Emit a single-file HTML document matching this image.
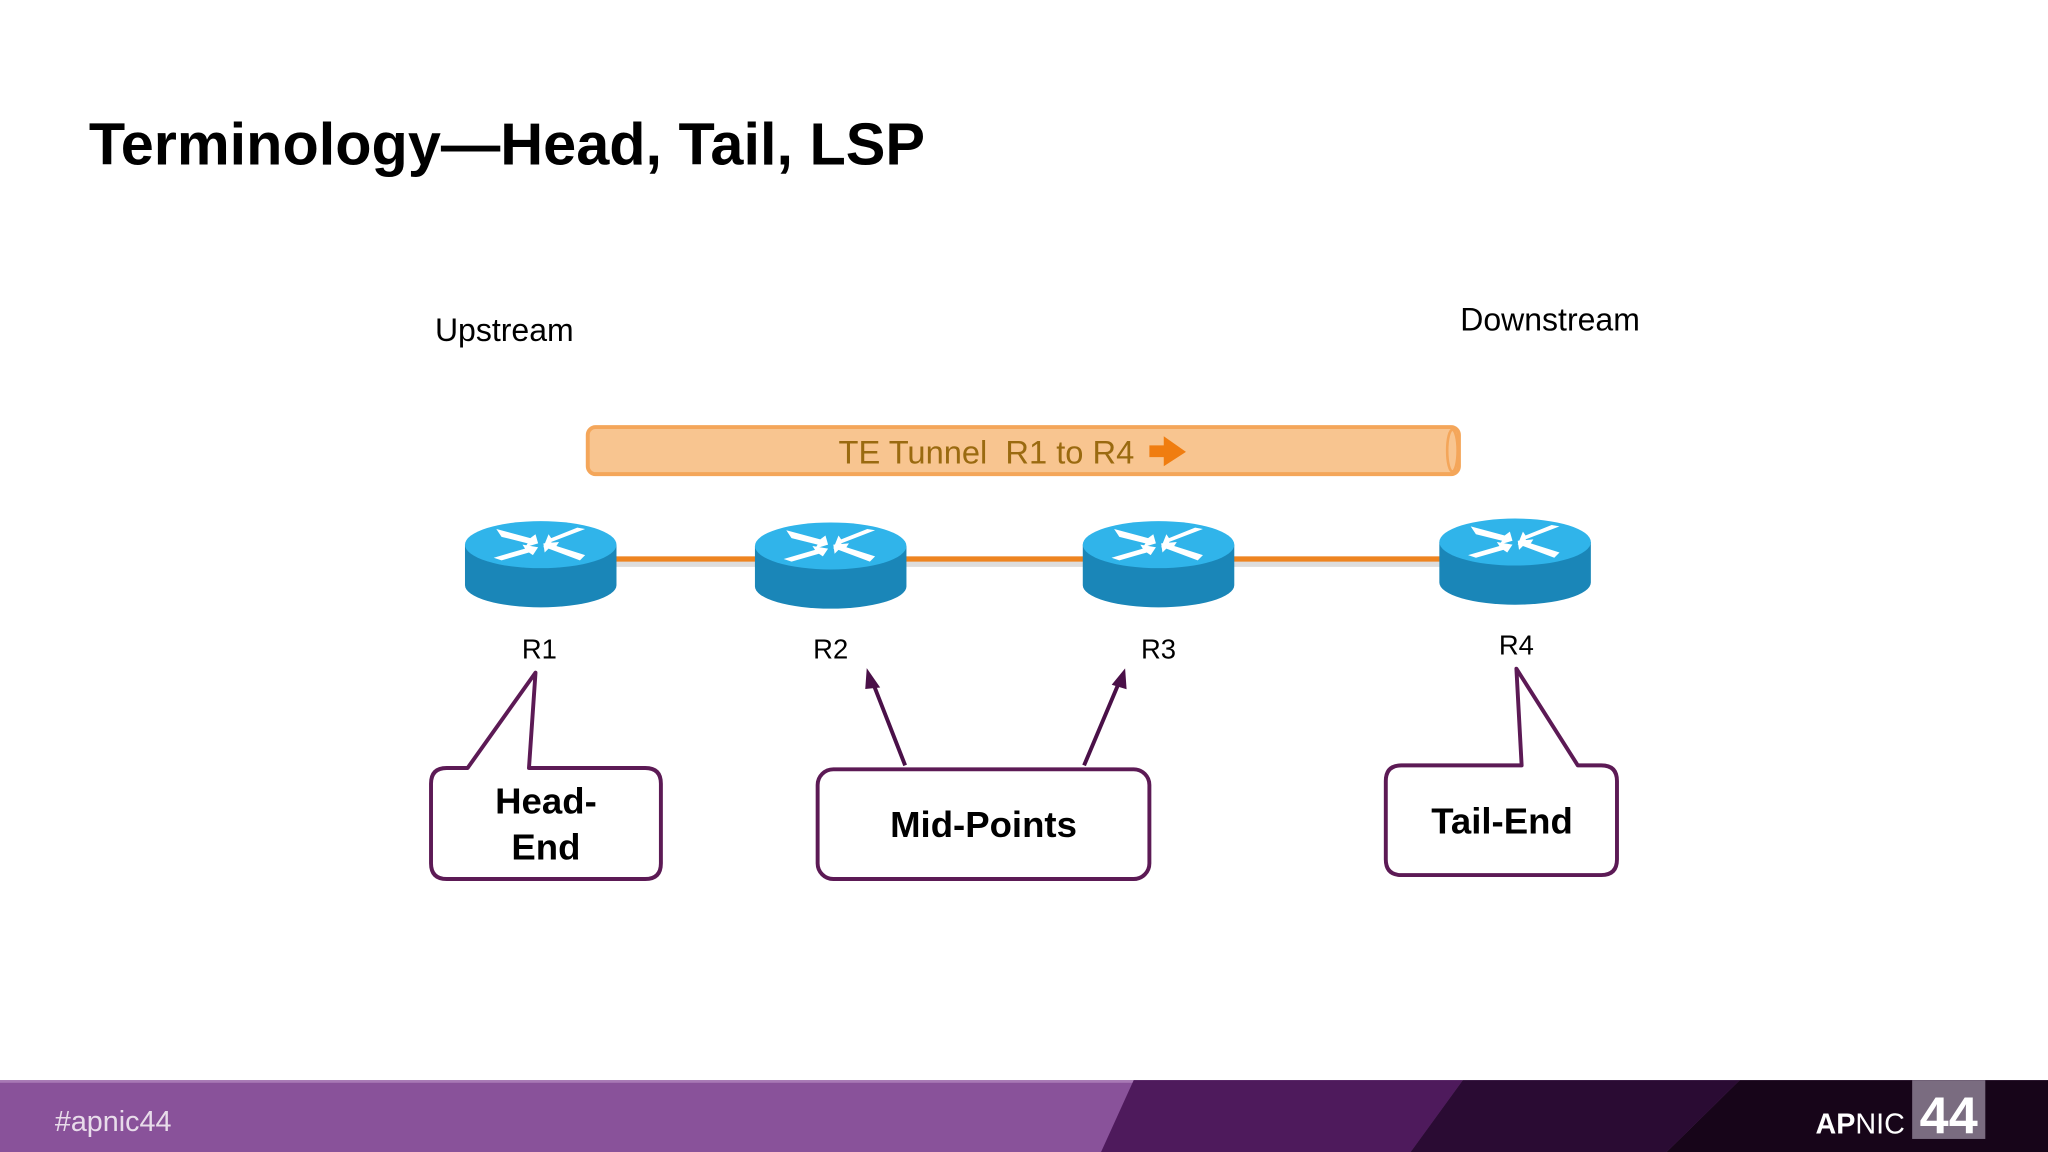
<!DOCTYPE html>
<html><head><meta charset="utf-8"><style>
html,body{margin:0;padding:0;background:#fff;}
svg{display:block;}
text{font-family:"Liberation Sans",Arial,sans-serif;}
</style></head><body>
<svg width="2048" height="1152" viewBox="0 0 1568 882" xmlns="http://www.w3.org/2000/svg">
<defs>
<g id="rt">
<path d="M-58,0 L-58,31 A58,17 0 0 0 58,31 L58,0 Z" fill="#1a86b8"/>
<ellipse cx="0" cy="0" rx="58" ry="18" fill="#30b4ea"/>
<g fill="#fff">
<polygon points="-34,-12 -8,-5 -4,-8 -2,-1 -12,2 -10,-1 -30,-6"/>
<polygon points="34,-12 8,-2 10,1 2,2 6,-8 8,-5 28,-13"/>
<polygon points="-36,10 -12,3 -14,0 -2,2 -6,8 -9,6 -30,12"/>
<polygon points="30,12 6,3 3,6 2,-1 14,-2 12,1 34,8"/>
</g>
</g>
</defs>
<text x="68" y="126" font-size="45.5" font-weight="bold" fill="#000">Terminology—Head, Tail, LSP</text>
<text x="333" y="261" font-size="24.5" fill="#000">Upstream</text>
<text x="1118" y="253" font-size="24.5" fill="#000">Downstream</text>
<rect x="450" y="327" width="667" height="36" rx="6" fill="#f8c590" stroke="#f4a65a" stroke-width="3"/>
<ellipse cx="1112" cy="345" rx="4" ry="16" fill="none" stroke="#f4a65a" stroke-width="2"/>
<text x="642" y="355" font-size="25" fill="#9a6a10" xml:space="preserve">TE Tunnel  R1 to R4</text>
<polygon points="880,341 891,341 891,334 908,346 891,357 891,350 880,350" fill="#f07d10"/>
<line x1="470" y1="430" x2="1105" y2="430" stroke="#ddd" stroke-width="8"/>
<line x1="470" y1="428" x2="1105" y2="428" stroke="#ee8420" stroke-width="4"/>
<use href="#rt" x="414" y="417"/>
<use href="#rt" x="636" y="418"/>
<use href="#rt" x="887" y="417"/>
<use href="#rt" x="1160" y="415"/>
<text x="413" y="504" font-size="21" text-anchor="middle">R1</text>
<text x="636" y="504" font-size="21" text-anchor="middle">R2</text>
<text x="887" y="504" font-size="21" text-anchor="middle">R3</text>
<text x="1161" y="501" font-size="21" text-anchor="middle">R4</text>
<g fill="#fff" stroke="#5c1a55" stroke-width="3" stroke-linejoin="round">
<path d="M342,588 L358,588 L410,515 L405,588 L494,588 Q506,588 506,600 L506,661 Q506,673 494,673 L342,673 Q330,673 330,661 L330,600 Q330,588 342,588 Z"/>
<rect x="626" y="589" width="254" height="84" rx="12"/>
<path d="M1073,586 L1165,586 L1161,512 L1208,586 L1226,586 Q1238,586 1238,598 L1238,658 Q1238,670 1226,670 L1073,670 Q1061,670 1061,658 L1061,598 Q1061,586 1073,586 Z"/>
</g>
<g stroke="#4a1048" stroke-width="3" fill="#4a1048">
<line x1="693" y1="586" x2="668" y2="522"/>
<polygon points="664,513 673,526 663,527" stroke-width="1"/>
<line x1="830" y1="586" x2="857" y2="522"/>
<polygon points="861,513 862,527 852,524" stroke-width="1"/>
</g>
<g font-size="28" font-weight="bold" text-anchor="middle">
<text x="418" y="623">Head-</text>
<text x="418" y="658">End</text>
<text x="753" y="641">Mid-Points</text>
<text x="1150" y="638">Tail-End</text>
</g>
<rect x="0" y="827" width="1568" height="55" fill="#89529a"/>
<rect x="0" y="827" width="868" height="2" fill="#a879b5"/>
<polygon points="868,827 1120,827 1080,882 843,882" fill="#4e1a5c"/>
<polygon points="1120,827 1332,827 1276,882 1080,882" fill="#2a0b33"/>
<polygon points="1332,827 1568,827 1568,882 1276,882" fill="#170519"/>
<rect x="1464" y="827" width="56" height="45" fill="#7a6c80"/>
<text x="42" y="866" font-size="22" fill="#e8dcea">#apnic44</text>
<text x="1390" y="868" font-size="22" font-weight="bold" fill="#fff">AP<tspan font-weight="normal">NIC</tspan></text>
<text x="1492" y="868" font-size="40" font-weight="bold" fill="#fff" text-anchor="middle">44</text>
</svg>
</body></html>
